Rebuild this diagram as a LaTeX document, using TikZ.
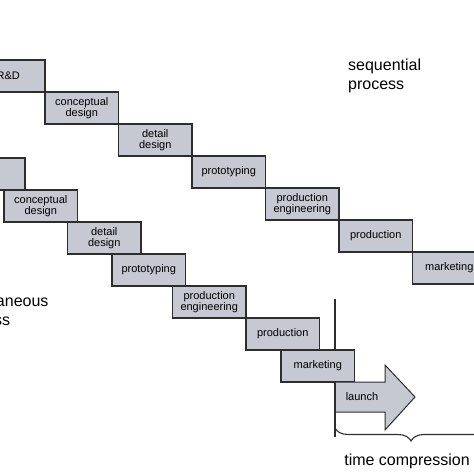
\documentclass[tikz,border=0pt]{standalone}
\usepackage{fontspec}
\setmainfont{Liberation Sans}
\usetikzlibrary{positioning,decorations.pathreplacing}
\definecolor{boxgray}{RGB}{198,200,210}
\definecolor{edgegray}{RGB}{45,45,48}
\tikzset{
	stepbox/.style={draw=edgegray, fill=boxgray, line width=1.2pt, minimum width=73.5pt, minimum height=32pt, inner sep=0pt, outer sep=0pt, align=center, font=\fontsize{11}{11.5}\selectfont},
	bigtext/.style={align=left, inner sep=0pt, font=\fontsize{16}{18.5}\selectfont}
}
\begin{document}
\begin{tikzpicture}[x=1pt, y=-1pt, line join=miter, >=stealth]
		\useasboundingbox (0,0) rectangle (474,474);
		\clip (0,0) rectangle (474,474);
		% time compression line, behind the boxes
		\coordinate (T1) at (335,299);
		\coordinate (T2) at (335,437);
		\draw[edgegray, line width=1.1pt] (T1)--(T2);
		% sequential process
		\node[stepbox, anchor=north west] (sRD) at (-28.5,60) {R\&D};
		\node[stepbox, below right=0pt and 0pt of sRD.south east] (sCD) {conceptual\\design};
		\node[stepbox, below right=0pt and 0pt of sCD.south east] (sDD) {detail\\design};
		\node[stepbox, below right=0pt and 0pt of sDD.south east] (sPT) {prototyping};
		\node[stepbox, below right=0pt and 0pt of sPT.south east] (sPE) {production\\engineering};
		\node[stepbox, below right=0pt and 0pt of sPE.south east] (sPR) {production};
		\node[stepbox, below right=0pt and 0pt of sPR.south east] (sMK) {marketing};
		\node[bigtext, anchor=west] (seqlabel) at (348,76) {sequential\\process};
		% simultaneous process
		\node[stepbox, anchor=north west] (cRD) at (-48.5,158) {R\&D};
		\node[stepbox, anchor=north west] (cCD) at (4,190) {conceptual\\design};
		\node[stepbox, anchor=north west] (cDD) at (67.5,222) {detail\\design};
		\node[stepbox, anchor=north west] (cPT) at (112,254) {prototyping};
		\node[stepbox, anchor=north west] (cPE) at (172.5,286) {production\\engineering};
		\node[stepbox, anchor=north west] (cPR) at (246,318) {production};
		\node[stepbox, anchor=north west] (cMK) at (281,350) {marketing};
		\node[bigtext, anchor=west] (simlabel) at (-46,312) {simultaneous\\process};
		% launch arrow
		\coordinate (L1) at (335,382);
		\coordinate (L2) at (385,382);
		\coordinate (L3) at (385,365);
		\coordinate (L4) at (415,397);
		\coordinate (L5) at (385,430);
		\coordinate (L6) at (385,412);
		\coordinate (L7) at (335,412);
		\draw[draw=edgegray, fill=boxgray, line width=1pt] (L1)--(L2)--(L3)--(L4)--(L5)--(L6)--(L7)--cycle;
		\draw[edgegray, line width=1.1pt] (L1)--(L7);
		\node[font=\fontsize{11}{11.5}\selectfont] (launch) at (362,397) {launch};
		% brace
		\coordinate (B1) at (487,428);
		\coordinate (B2) at (335,428);
		\draw[edgegray, line width=1.1pt, decorate, decoration={brace, amplitude=13pt}] (B1)--(B2);
		\node[font=\fontsize{16}{18}\selectfont] (timelabel) at (407,461) {time compression};
\end{tikzpicture}
\end{document}
